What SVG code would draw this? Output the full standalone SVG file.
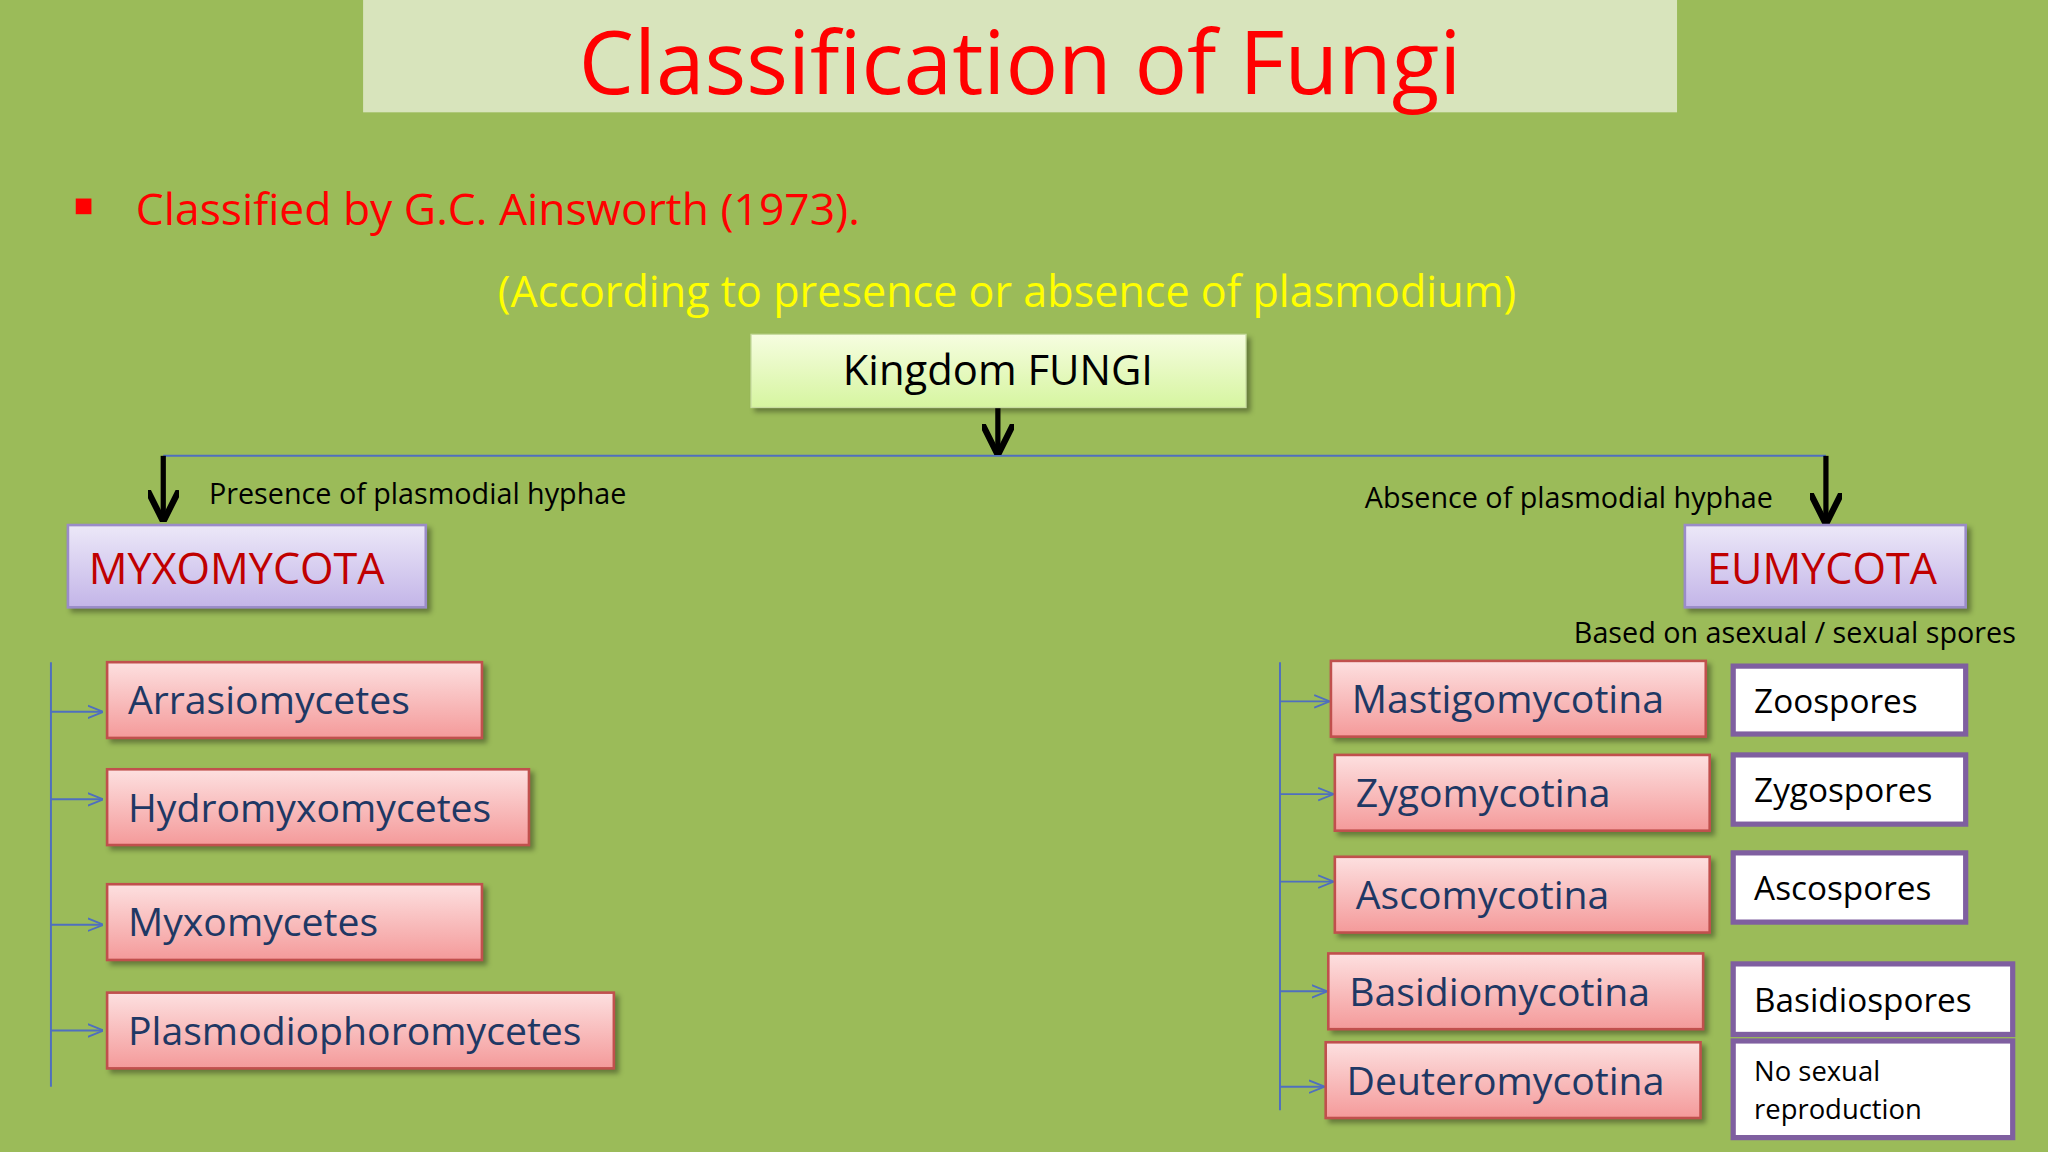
<svg xmlns="http://www.w3.org/2000/svg" width="2048" height="1152" viewBox="0 0 2048 1152">
<defs>
<linearGradient id="gG" x1="0" y1="0" x2="0" y2="1"><stop offset="0" stop-color="#f6fde0"/><stop offset="1" stop-color="#d6f5a0"/></linearGradient>
<linearGradient id="gP" x1="0" y1="0" x2="0" y2="1"><stop offset="0" stop-color="#ece8f8"/><stop offset="1" stop-color="#c3b5e8"/></linearGradient>
<linearGradient id="gR" x1="0" y1="0" x2="0" y2="1"><stop offset="0" stop-color="#fde0e0"/><stop offset="1" stop-color="#f49a9a"/></linearGradient>
<marker id="bA" viewBox="0 0 10 10" refX="9" refY="5" markerWidth="6" markerHeight="6" orient="auto"><path d="M0 0L10 5L0 10" fill="none" stroke="#000" stroke-width="2"/></marker>
<marker id="lA" viewBox="0 0 10 10" refX="9" refY="5" markerWidth="8" markerHeight="8" orient="auto"><path d="M0 1L10 5L0 9" fill="none" stroke="#4f6fbf" stroke-width="1.2"/></marker>
</defs>
<style>
text{font-family:"Open Sans","Noto Sans",sans-serif}
.sh{filter:drop-shadow(3px 3px 2px rgba(0,0,0,0.35))}
.pk{fill:url(#gR);stroke:#c0504d;stroke-width:2}
.pu{fill:url(#gP);stroke:#9a8cc8;stroke-width:2}
.wb{fill:#fff;stroke:#7f5fa0;stroke-width:4}
.tb{fill:#1f3864;font-size:30px}
.tw{fill:#000;font-size:25.5px}
.sm{fill:#000;font-size:22px}
.ns{fill:#000;font-size:21px}
.bl{stroke:#4f6fbf;stroke-width:1.5;fill:none}
.bk{stroke:#000;stroke-width:4;fill:none}
</style>
<rect width="2048" height="1152" fill="#9bbb59"/>
<g transform="scale(1.3061)">
<g id="title"><rect x="278" y="0" width="1006" height="86" fill="#d8e4bc"/>
<text x="781" y="72" text-anchor="middle" font-size="67" fill="#ff0000">Classification of Fungi</text></g>
<g id="sub"><rect x="58" y="152" width="12" height="12" fill="#ff0000"/>
<text x="104" y="172" font-size="34" fill="#ff0000">Classified by G.C. Ainsworth (1973).</text>
<text x="771" y="235" text-anchor="middle" font-size="33" fill="#ffff00">(According to presence or absence of plasmodium)</text></g>
<g id="connectors">
<path class="bl" d="M125 349H1398"/>
<path class="bk" d="M764 312V346" marker-end="url(#bA)"/>
<path class="bk" d="M125 349V397" marker-end="url(#bA)"/>
<path class="bk" d="M1398 349V399" marker-end="url(#bA)"/>
<path class="bl" d="M39 507V832"/>
<path class="bl" d="M39 545H78" marker-end="url(#lA)"/><path class="bl" d="M39 612H78" marker-end="url(#lA)"/><path class="bl" d="M39 708H78" marker-end="url(#lA)"/><path class="bl" d="M39 789H78" marker-end="url(#lA)"/>
<path class="bl" d="M980 507V850"/>
<path class="bl" d="M980 537H1017" marker-end="url(#lA)"/><path class="bl" d="M980 608H1020" marker-end="url(#lA)"/><path class="bl" d="M980 675H1020" marker-end="url(#lA)"/><path class="bl" d="M980 759H1015" marker-end="url(#lA)"/><path class="bl" d="M980 832H1013" marker-end="url(#lA)"/>
</g>
<g id="labels">
<text class="sm" x="160" y="386">Presence of plasmodial hyphae</text>
<text class="sm" x="1045" y="389">Absence of plasmodial hyphae</text>
<text class="sm" x="1205" y="492">Based on asexual / sexual spores</text>
</g>
<g id="kingdom"><rect class="sh" x="575" y="256" width="379" height="56" fill="url(#gG)" stroke="#c8dca0"/><text x="764" y="295" text-anchor="middle" font-size="32">Kingdom FUNGI</text></g>
<g id="myxo"><rect class="pu sh" x="52" y="402" width="274" height="63"/><text x="68" y="447" font-size="33" fill="#c00000">MYXOMYCOTA</text></g>
<g id="eumy"><rect class="pu sh" x="1290" y="402" width="215" height="63"/><text x="1307" y="447" font-size="33" fill="#c00000">EUMYCOTA</text></g>
<g id="arr"><rect class="pk sh" x="82" y="507" width="287" height="58"/><text class="tb" x="98" y="547">Arrasiomycetes</text></g>
<g id="hyd"><rect class="pk sh" x="82" y="589" width="323" height="58"/><text class="tb" x="98" y="629">Hydromyxomycetes</text></g>
<g id="myx"><rect class="pk sh" x="82" y="677" width="287" height="58"/><text class="tb" x="98" y="717">Myxomycetes</text></g>
<g id="pla"><rect class="pk sh" x="82" y="760" width="388" height="58"/><text class="tb" x="98" y="800">Plasmodiophoromycetes</text></g>
<g id="mas"><rect class="pk sh" x="1019" y="506" width="287" height="58"/><text class="tb" x="1035" y="546">Mastigomycotina</text></g>
<g id="zyg"><rect class="pk sh" x="1022" y="578" width="287" height="58"/><text class="tb" x="1038" y="618">Zygomycotina</text></g>
<g id="asc"><rect class="pk sh" x="1022" y="656" width="287" height="58"/><text class="tb" x="1038" y="696">Ascomycotina</text></g>
<g id="bas"><rect class="pk sh" x="1017" y="730" width="287" height="58"/><text class="tb" x="1033" y="770">Basidiomycotina</text></g>
<g id="deu"><rect class="pk sh" x="1015" y="798" width="287" height="58"/><text class="tb" x="1031" y="838">Deuteromycotina</text></g>
<g id="zoo"><rect class="wb" x="1327" y="510" width="178" height="52"/><text class="tw" x="1343" y="546">Zoospores</text></g>
<g id="zys"><rect class="wb" x="1327" y="578" width="178" height="53"/><text class="tw" x="1343" y="614">Zygospores</text></g>
<g id="ass"><rect class="wb" x="1327" y="653" width="178" height="53"/><text class="tw" x="1343" y="689">Ascospores</text></g>
<g id="bss"><rect class="wb" x="1327" y="738" width="214" height="54"/><text class="tw" x="1343" y="775">Basidiospores</text></g>
<g id="nsr"><rect class="wb" x="1327" y="797" width="214" height="74"/><text class="ns" x="1343" y="828">No sexual</text><text class="ns" x="1343" y="857">reproduction</text></g>
</g>
</svg>
